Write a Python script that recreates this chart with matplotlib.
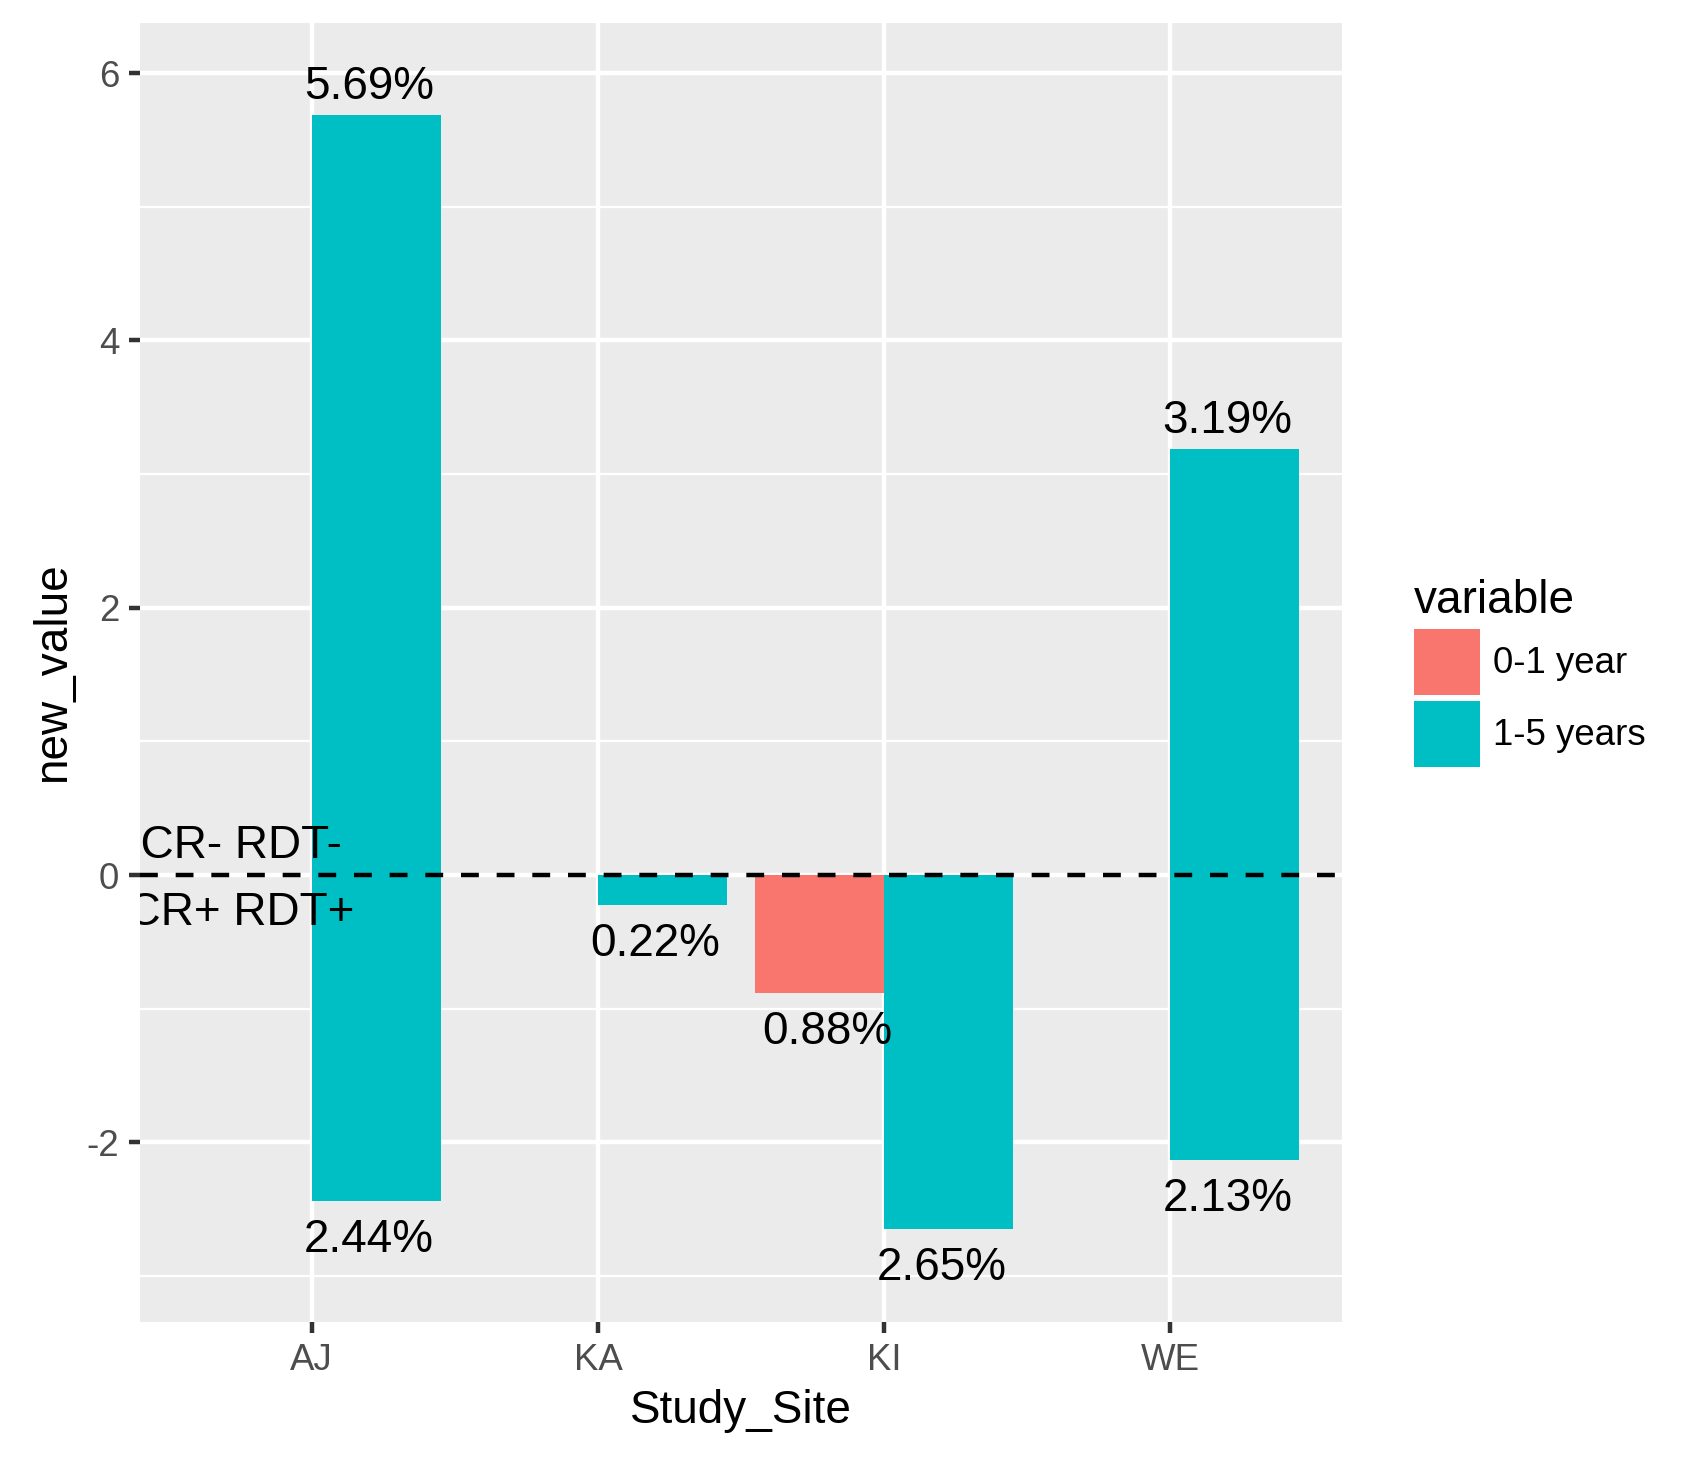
import numpy as np
import matplotlib
matplotlib.use("Agg")
import matplotlib.pyplot as plt

plt.rcParams['font.family'] = ['Liberation Sans', 'DejaVu Sans']
plt.rcParams['axes.unicode_minus'] = False

# data
sites = ['AJ', 'KA', 'KI', 'WE']
young_neg = [np.nan, np.nan, -0.88, np.nan]      # 0-1 year, PCR+ RDT+
older_pos = [5.69, np.nan, np.nan, 3.19]         # 1-5 years, PCR- RDT-
older_neg = [-2.44, -0.22, -2.65, -2.13]         # 1-5 years, PCR+ RDT+
groups = ['0-1 year', '1-5 years']
notes = ['PCR- RDT-', 'PCR+ RDT+']
note_y = [0.22, -0.28]

red = '#F8766D'
teal = '#00BFC4'

fig = plt.figure(figsize=(1689 / 300, 1459 / 300), dpi=300)
ax = fig.add_axes([140 / 1689, 1 - 1322 / 1459, 1202 / 1689, 1299 / 1459])
ax.set_facecolor('#EBEBEB')
for s in ax.spines.values():
    s.set_visible(False)

x = np.arange(1, len(sites) + 1)
w = 0.45    # bars dodged over 0.9
tw = 0.2    # text dodged over 0.8
ax.bar(x - w / 2, young_neg, width=w, color=red, label=groups[0], zorder=2)
ax.bar(x + w / 2, older_pos, width=w, color=teal, label=groups[1], zorder=2)
ax.bar(x + w / 2, older_neg, width=w, color=teal, label='_nolegend_', zorder=2)

ax.axhline(0, color='black', lw=1.07, linestyle=(0, (4, 4)), zorder=3)

# percentage labels
def put_labels(xs, vals):
    for xi, v in zip(xs, vals):
        if np.isnan(v):
            continue
        if v > 0:
            ax.annotate(f'{abs(v):.2f}%', (xi, v), xytext=(0, 3.8),
                        textcoords='offset points', ha='center', va='baseline',
                        fontsize=11, zorder=4)
        else:
            ax.annotate(f'{abs(v):.2f}%', (xi, v), xytext=(0, -4.1),
                        textcoords='offset points', ha='center', va='top',
                        fontsize=11, zorder=4)

put_labels(x - tw, young_neg)
put_labels(x + tw, older_pos)
put_labels(x + tw, older_neg)

for t, yy in zip(notes, note_y):
    ax.text(0.7, yy, t, ha='center', va='center', fontsize=11,
            clip_on=True, zorder=4)

ax.set_xlim(0.4, 4.6)
ax.set_ylim(-3.343, 6.375)
ax.set_xticks(x)
ax.set_xticklabels(sites)
ax.set_yticks([-2, 0, 2, 4, 6])
ax.set_yticks([-3, -1, 1, 3, 5], minor=True)
ax.grid(which='major', color='white', lw=1.07, zorder=0)
ax.grid(which='minor', axis='y', color='white', lw=0.53, zorder=0)
ax.set_axisbelow(True)
ax.tick_params(which='major', length=2.75, width=1.07, color='#333333',
               labelcolor='#4D4D4D', labelsize=8.8, pad=2.2)
ax.tick_params(which='minor', length=0)

ax.set_xlabel('Study_Site', fontsize=11, labelpad=2.75)
ax.set_ylabel('new_value', fontsize=11, labelpad=2.75)

fig.legend(loc='upper left', bbox_to_anchor=(1414 / 1689, 1 - 579 / 1459),
           title='variable', title_fontsize=11, fontsize=8.8, frameon=False,
           alignment='left', borderpad=0, borderaxespad=0,
           handlelength=1.8, handleheight=2.39,
           labelspacing=0.164, handletextpad=0.355)

fig.savefig('out.png', dpi=300)
